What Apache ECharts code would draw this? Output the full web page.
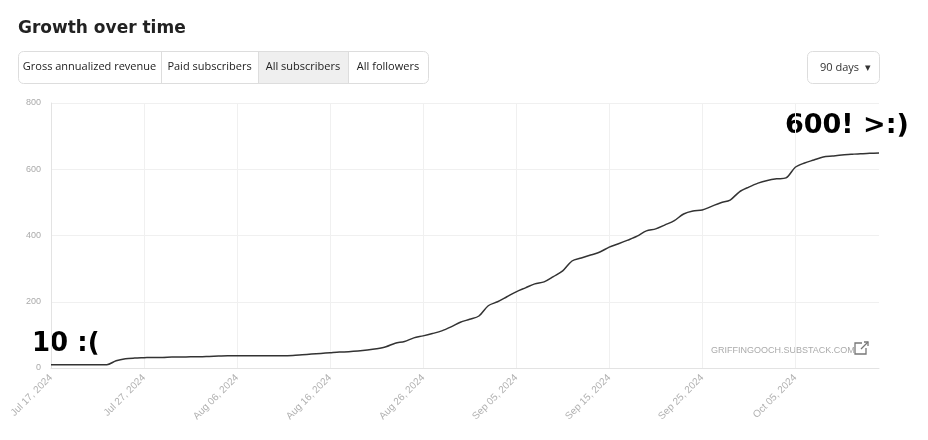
<!DOCTYPE html>
<html>
<head>
<meta charset="utf-8">
<script src="https://cdn.jsdelivr.net/npm/echarts@6/dist/echarts.min.js"></script>
<style>
  html, body { margin: 0; padding: 0; background: #fff; }
  #main { width: 928px; height: 440px; }
</style>
</head>
<body>
<div id="main"></div>
<script>
// 数据：Jul 17 2024 起 90 天的订阅人数
var startDate = '2024-07-17';
var subscribers = [
  10, 10, 10, 10, 10, 10, 10, 22, 28, 30,
  31, 32, 32, 33, 33, 34, 34, 35, 36, 37,
  37, 37, 37, 37, 37, 37, 38, 40, 42, 44,
  46, 48, 49, 51, 54, 58, 64, 75, 80, 91,
  97, 104, 112, 124, 138, 147, 157, 188, 200, 215,
  230, 242, 254, 260, 276, 293, 323, 332, 341, 350,
  365, 375, 386, 398, 414, 420, 432, 445, 465, 474,
  477, 488, 499, 507, 532, 546, 558, 566, 571, 574,
  606, 619, 628, 637, 640, 643, 645, 647, 648, 649
];
var yTicks = [0, 200, 400, 600, 800];
var tabs = ['Gross annualized revenue', 'Paid subscribers', 'All subscribers', 'All followers'];
var tabEdges = [18, 161, 258, 348, 428];

var months = ['Jan','Feb','Mar','Apr','May','Jun','Jul','Aug','Sep','Oct','Nov','Dec'];
var dates = [];
var d0 = new Date(startDate + 'T00:00:00Z');
for (var i = 0; i < subscribers.length; i++) {
  var d = new Date(d0.getTime() + i * 86400000);
  var day = d.getUTCDate();
  dates.push(months[d.getUTCMonth()] + ' ' + (day < 10 ? '0' + day : day) + ', ' + d.getUTCFullYear());
}

var myChart = echarts.init(document.getElementById('main'));

var graphics = [
  { type: 'text', left: 18, top: 20, style: { text: 'Growth over time', font: 'bold 17px "DejaVu Sans", sans-serif', fill: '#222' } },
  { type: 'rect', shape: { x: 18.5, y: 51.5, width: 410, height: 32, r: 5 }, style: { fill: '#fff', stroke: '#ddd', lineWidth: 1 } },
  { type: 'rect', shape: { x: 258, y: 52, width: 90, height: 31 }, style: { fill: '#efefef' } },
  { type: 'rect', shape: { x: 807.5, y: 51.5, width: 72, height: 32, r: 5 }, style: { fill: '#fff', stroke: '#ddd', lineWidth: 1 } },
  { type: 'text', x: 820, y: 62, style: { text: '90 days  \u25BE', font: '11px "Open Sans", sans-serif', fill: '#333' } },
  { type: 'text', x: 32, y: 331, style: { text: '10 :(', font: 'bold 26px "DejaVu Sans", sans-serif', fill: '#000' } },
  { type: 'text', x: 785, y: 112, style: { text: '600! >:)', font: 'bold 27px "DejaVu Sans", sans-serif', fill: '#000' } },
  { type: 'text', x: 711, y: 346, style: { text: 'GRIFFINGOOCH.SUBSTACK.COM', font: '9px "Liberation Sans", sans-serif', fill: '#aaa' } },
  { type: 'polyline', shape: { points: [[862, 343], [855, 343], [855, 354], [866, 354], [866, 348]] }, style: { stroke: '#777', lineWidth: 1.3, fill: null } },
  { type: 'polyline', shape: { points: [[861, 349], [868, 342]] }, style: { stroke: '#777', lineWidth: 1.3 } },
  { type: 'polyline', shape: { points: [[864, 342], [868, 342], [868, 346]] }, style: { stroke: '#777', lineWidth: 1.3, fill: null } }
];
tabs.forEach(function (t, k) {
  if (k > 0) {
    graphics.push({ type: 'line', shape: { x1: tabEdges[k] + 0.5, y1: 52, x2: tabEdges[k] + 0.5, y2: 83 }, style: { stroke: '#ddd' } });
  }
  graphics.push({ type: 'text', x: (tabEdges[k] + tabEdges[k + 1]) / 2, y: 67,
    style: { text: t, font: '11px "Open Sans", sans-serif', fill: '#222', align: 'center', verticalAlign: 'middle' } });
});

var option = {
  animation: false,
  grid: { left: 51, right: 49, top: 103, bottom: 72 },
  graphic: graphics,
  xAxis: {
    type: 'category',
    data: dates,
    boundaryGap: false,
    axisLine: { lineStyle: { color: '#e3e3e3' } },
    axisTick: { show: false },
    axisLabel: { interval: 9, rotate: 45, color: '#b0b0b0', fontSize: 10, fontFamily: 'Liberation Sans', margin: 8 },
    splitLine: { show: true, interval: 9, lineStyle: { color: '#f0f0f0' } }
  },
  yAxis: {
    type: 'value',
    min: yTicks[0],
    max: yTicks[yTicks.length - 1],
    interval: 200,
    axisLine: { show: true, lineStyle: { color: '#e3e3e3' } },
    axisLabel: { color: '#aaa', fontSize: 9, fontFamily: 'Liberation Sans', margin: 10 },
    splitLine: { lineStyle: { color: '#f0f0f0' } }
  },
  series: [{
    type: 'line',
    data: subscribers,
    smooth: 0.3,
    showSymbol: false,
    lineStyle: { color: '#333', width: 1.5 }
  }]
};
myChart.clear();
myChart.setOption(option);
</script>
</body>
</html>
